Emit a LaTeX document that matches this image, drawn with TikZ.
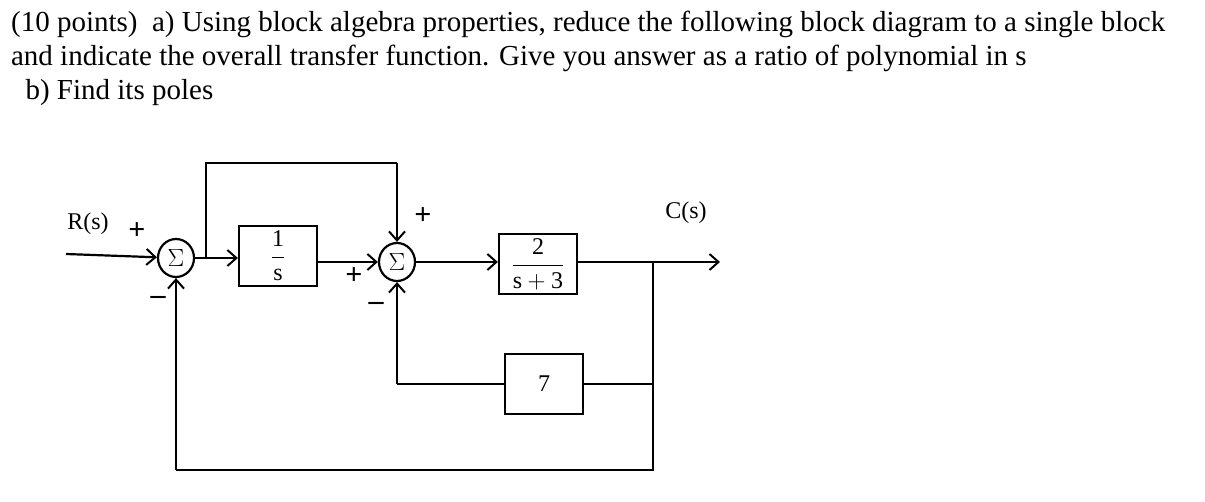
\documentclass[tikz,border=0pt]{standalone}
\usepackage{fontspec}
\setmainfont{Liberation Serif}
\usetikzlibrary{arrows.meta,shapes.geometric}
\begin{document}
\begin{tikzpicture}[x=1pt,y=-1pt,line width=2.2pt,
  blk/.style={draw,minimum width=78pt,minimum height=60pt,inner sep=0pt,font=\fontsize{24}{26}\selectfont},
  sum/.style={draw,ellipse,minimum width=36pt,minimum height=38pt,inner sep=0pt,font=\fontsize{26}{28}\selectfont},
  arr/.style={-{Straight Barb[length=9pt,width=16pt,line width=2pt]}},
  lbl/.style={font=\fontsize{24}{26}\selectfont},
  sg/.style={font=\fontsize{30}{30}\bfseries\selectfont}]
\useasboundingbox (0,0) rectangle (1205,502);
\node[anchor=north west,align=left,font=\fontsize{29}{34}\selectfont,inner sep=0pt] (t) at (10,10)
{(10 points)\ \ a) Using block algebra properties, reduce the following block diagram to a single block\\
and indicate the overall transfer function. Give you answer as a ratio of polynomial in s\\
\ \ b) Find its poles};
\node[sum] (s1) at (176,258) {$\Sigma$};
\node[blk] (b1) at (278,256) {$\displaystyle\frac{\mbox{1}}{\mbox{s}}$};
\node[sum] (s2) at (397,262) {$\Sigma$};
\node[blk] (b2) at (538,264) {$\displaystyle\frac{\mbox{2}}{\mbox{s}+\mbox{3}}$};
\node[blk] (b7) at (544,384) {7};
\coordinate (in) at (66,254);
\coordinate (out) at (720,262);
\coordinate (br) at (653,262);
\coordinate (tp) at (206,258);
\draw[arr] (in) -- (s1);
\draw[arr] (s1) -- (b1.west|-s1);
\draw[arr] (b1.east|-s2) -- (s2);
\draw[arr] (s2) -- (b2.west|-s2);
\draw[arr] (b2.east|-out) -- (out);
\draw (tp) -- (206,163) -- (397,163);
\draw[arr] (397,163) -- (s2);
\draw (br) -- (653,470) -- (176,470);
\draw[arr] (176,470) -- (s1);
\draw (653,384) -- (b7);
\draw (b7) -- (397,384);
\draw[arr] (397,384) -- (s2);
\node[lbl] (r) at (88,224) {R(s)};
\node[lbl] (c) at (686,213) {C(s)};
\node[sg] (p1) at (137,231) {+};
\node[sg] (m1) at (158,300) {--};
\node[sg] (p2) at (423,216) {+};
\node[sg] (p3) at (354,276) {+};
\node[sg] (m2) at (376,306) {--};
\end{tikzpicture}
\end{document}
